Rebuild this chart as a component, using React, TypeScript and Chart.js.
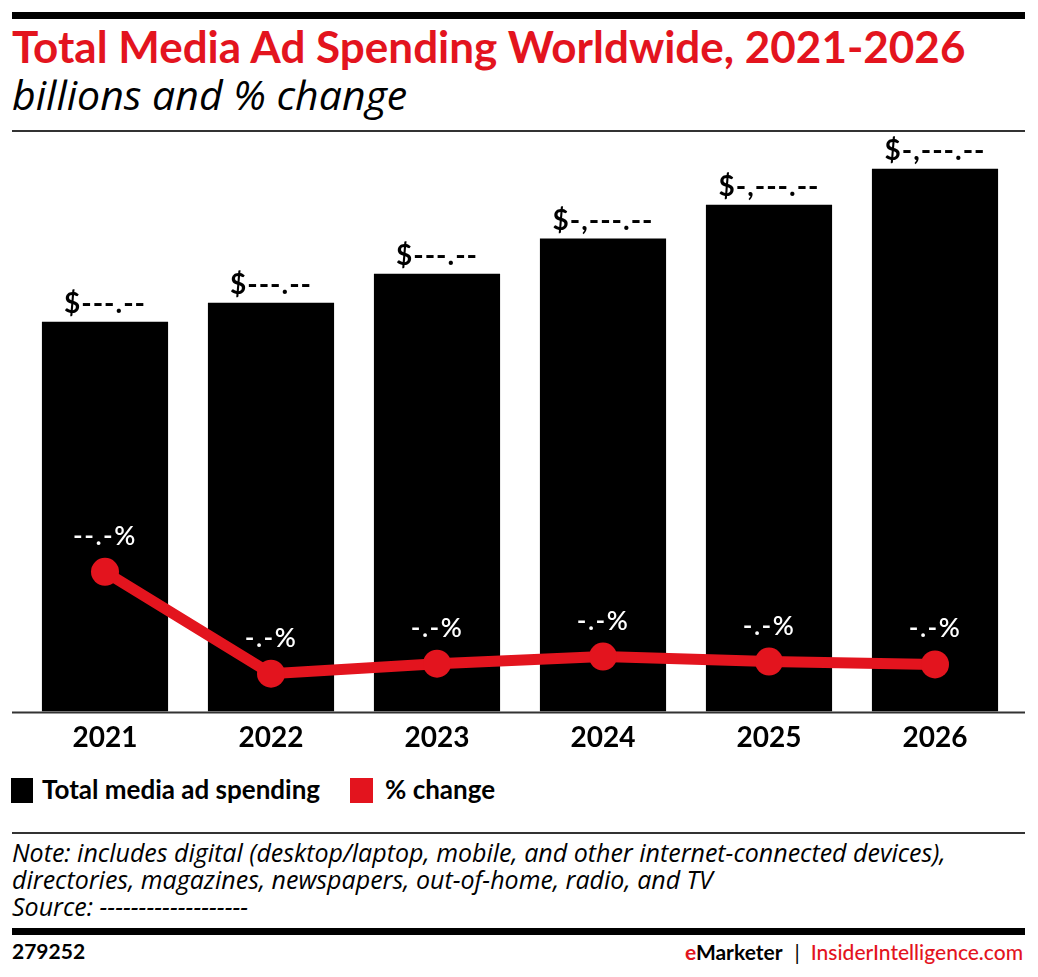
import React, { useEffect, useRef } from "react";
import { Chart, registerables } from "chart.js";

Chart.register(...registerables);

const years = ["2021", "2022", "2023", "2024", "2025", "2026"];
const spending = [852, 894, 957, 1034, 1108, 1187];
const pctChange = [19.6, 5.3, 6.7, 7.7, 7.0, 6.6];
const spendingLabels = ["$---.--", "$---.--", "$---.--", "$-,---.--", "$-,---.--", "$-,---.--"];
const pctLabels = ["--.-%", "-.-%", "-.-%", "-.-%", "-.-%", "-.-%"];

const RED = "#e3141e";
const FONT = "Lato";
const IFONT = "'Open Sans'";

type TP = {
  x: number;
  base: number;
  size: number;
  children: React.ReactNode;
  weight?: number | string;
  italic?: boolean;
  color?: string;
  right?: boolean;
  family?: string;
  asc?: number;
};

function T({ x, base, size, children, weight = 400, italic = false, color = "#000", right = false, family = FONT, asc = 0.987 }: TP) {
  const top = base - asc * size;
  const style: React.CSSProperties = {
    position: "absolute",
    top,
    fontFamily: family,
    fontSize: size,
    lineHeight: `${size * 1.2}px`,
    fontWeight: weight as any,
    fontStyle: italic ? "italic" : "normal",
    color,
    whiteSpace: "nowrap",
  };
  if (right) style.right = 1038 - x;
  else style.left = x;
  return <div style={style}>{children}</div>;
}

function Rule({ y, h, color = "#000" }: { y: number; h: number; color?: string }) {
  return <div style={{ position: "absolute", left: 12, width: 1013, top: y, height: h, background: color }} />;
}

const labelPlugin = {
  id: "valueLabels",
  beforeDatasetsDraw(chart: any) {
    const ctx = chart.ctx;
    ctx.save();
    ctx.strokeStyle = "#333";
    ctx.lineWidth = 2;
    ctx.beginPath();
    const y = chart.chartArea.bottom + 1;
    ctx.moveTo(12, y);
    ctx.lineTo(1025, y);
    ctx.stroke();
    ctx.restore();
  },
  afterDatasetsDraw(chart: any) {
    const ctx = chart.ctx;
    ctx.save();
    ctx.textAlign = "center";
    ctx.textBaseline = "alphabetic";
    ctx.fillStyle = "#000";
    ctx.font = `bold 28px ${FONT}`;
    (ctx as any).letterSpacing = "1px";
    chart.getDatasetMeta(0).data.forEach((el: any, i: number) => {
      ctx.fillText(spendingLabels[i], el.x, el.y - 9);
    });
    ctx.fillStyle = "#fff";
    ctx.font = `600 26px ${FONT}`;
    (ctx as any).letterSpacing = "1.5px";
    chart.getDatasetMeta(1).data.forEach((el: any, i: number) => {
      ctx.fillText(pctLabels[i], el.x, el.y - 27);
    });
    ctx.restore();
  },
};

function ChartCanvas() {
  const ref = useRef<HTMLCanvasElement>(null);
  useEffect(() => {
    if (!ref.current) return;
    const chart = new Chart(ref.current, {
      data: {
        labels: years,
        datasets: [
          {
            type: "bar",
            label: "Total media ad spending",
            data: spending,
            backgroundColor: "#000",
            barPercentage: 0.76,
            categoryPercentage: 1,
            yAxisID: "y",
            order: 2,
          },
          {
            type: "line",
            label: "% change",
            data: pctChange,
            borderColor: RED,
            backgroundColor: RED,
            borderWidth: 11,
            pointRadius: 14,
            pointBackgroundColor: RED,
            pointBorderWidth: 0,
            tension: 0,
            yAxisID: "y1",
            order: 1,
          },
        ] as any,
      },
      options: {
        responsive: false,
        animation: false,
        layout: { padding: { left: 22, right: 20, top: 5, bottom: 0 } },
        plugins: { legend: { display: false }, tooltip: { enabled: false } },
        scales: {
          x: {
            grid: { display: false, drawTicks: false },
            border: { display: false },
            ticks: { font: { family: FONT, weight: "bold", size: 28 }, color: "#000", padding: 10 },
          },
          y: { display: false, min: 0, max: 1230 },
          y1: { display: false, min: 0, max: 79 },
        },
      } as any,
      plugins: [labelPlugin],
    });
    return () => chart.destroy();
  }, []);
  return (
    <canvas
      ref={ref}
      width={1038}
      height={630}
      style={{ position: "absolute", left: 0, top: 135, width: 1038, height: 630 }}
    />
  );
}

export default function App() {
  return (
    <div style={{ position: "absolute", left: 0, top: 0, width: 1038, height: 977, background: "#fff", overflow: "hidden" }}>
      <Rule y={12} h={7} />
      <T x={12} base={63} size={44} weight={700} color={RED}>
        Total Media Ad Spending Worldwide, 2021-2026
      </T>
      <T x={12} base={111} size={41} italic family={IFONT} asc={0.988}>
        billions and % change
      </T>
      <Rule y={130} h={2} color="#333" />
      <ChartCanvas />
      <div style={{ position: "absolute", left: 11, top: 778, width: 22, height: 25, background: "#000" }} />
      <T x={42} base={800} size={26} weight={700}>
        Total media ad spending
      </T>
      <div style={{ position: "absolute", left: 350, top: 778, width: 23, height: 25, background: RED }} />
      <T x={385} base={800} size={26} weight={700}>
        % change
      </T>
      <Rule y={832} h={2} color="#333" />
      <T x={12} base={862} size={25} italic family={IFONT} asc={0.988}>
        Note: includes digital (desktop/laptop, mobile, and other internet-connected devices),
      </T>
      <T x={12} base={889} size={25} italic family={IFONT} asc={0.988}>
        directories, magazines, newspapers, out-of-home, radio, and TV
      </T>
      <T x={12} base={916} size={25} italic family={IFONT} asc={0.988}>
        Source: -------------------
      </T>
      <Rule y={928} h={7} />
      <T x={12} base={959} size={21} weight={700}>
        279252
      </T>
      <T x={1023} base={960} size={21} weight={700} right>
        <span style={{ color: RED }}>e</span>
        <span>Marketer</span>
        <span style={{ fontWeight: 400, margin: "0 11px 0 12px" }}>|</span>
        <span style={{ color: RED, fontWeight: 500 }}>InsiderIntelligence.com</span>
      </T>
    </div>
  );
}
